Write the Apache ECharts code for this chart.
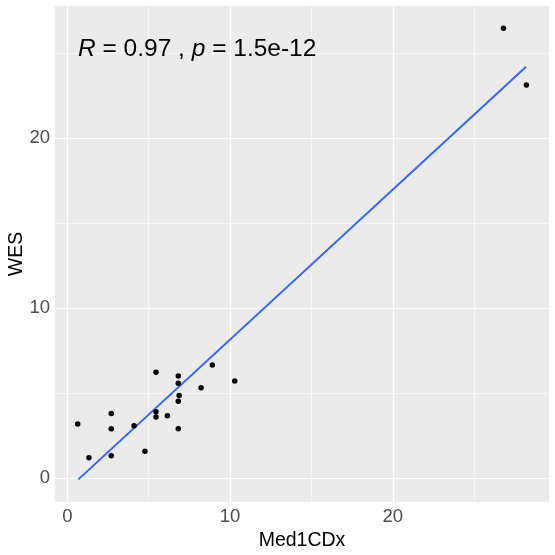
<!DOCTYPE html>
<html>
<head>
<meta charset="utf-8">
<script src="https://cdn.jsdelivr.net/npm/echarts@6/dist/echarts.min.js"></script>
<style>html,body{margin:0;padding:0;background:#fff}#c{width:555px;height:555px}</style>
</head>
<body>
<div id="c"></div>
<script>
var med1cdx = [0.64, 1.33, 2.70, 2.70, 2.70, 4.10, 4.77, 5.45, 5.45, 5.45, 6.15, 6.82, 6.82, 6.87, 6.82, 6.82, 8.22, 8.91, 10.29, 26.80, 28.21];
var wes     = [3.19, 1.21, 3.82, 2.92, 1.33, 3.09, 1.59, 6.24, 3.92, 3.61, 3.68, 6.02, 5.59, 4.88, 4.53, 2.92, 5.33, 6.66, 5.72, 26.47, 23.14];
var fitX = [0.68, 28.19];
var fitY = [-0.06, 24.21];
var xTicks = [0, 10, 20];
var yTicks = [0, 10, 20];
var majorGrid = [0, 10, 20];
var minorGrid = [5, 15, 25];
var statText = ['R', ' = 0.97 , ', 'p', ' = 1.5e-12'];

var pts = med1cdx.map(function (x, i) { return [x, wes[i]]; });
var fit = fitX.map(function (x, i) { return [x, fitY[i]]; });

function gridLines(vals, axisKey, width) {
  return vals.map(function (v) {
    var o = {}; o[axisKey] = v;
    o.lineStyle = { color: '#ffffff', width: width, type: 'solid' };
    return o;
  });
}

var chart = echarts.init(document.getElementById('c'), null, { renderer: 'canvas' });
var FONT = 'Liberation Sans, Arial, sans-serif';
chart.setOption({
  animation: false,
  textStyle: { fontFamily: FONT },
  grid: { left: 55, right: 6, top: 6, bottom: 53, show: true, backgroundColor: '#EBEBEB', borderWidth: 0,
          containLabel: false, outerBoundsMode: 'none' },
  xAxis: {
    type: 'value', min: -0.756, max: 29.6,
    name: 'Med1CDx', nameLocation: 'middle', nameGap: 26,
    nameTextStyle: { color: '#000', fontSize: 19.5, fontFamily: FONT },
    axisLine: { show: false },
    splitLine: { show: false },
    axisTick: { show: true, customValues: xTicks, length: 3.5, lineStyle: { color: '#333', width: 1 } },
    axisLabel: { show: true, customValues: xTicks, color: '#4D4D4D', fontSize: 18.5, margin: 5, fontFamily: FONT }
  },
  yAxis: {
    type: 'value', min: -1.39, max: 27.78,
    name: 'WES', nameLocation: 'middle', nameGap: 28, nameMoveOverlap: false,
    nameTextStyle: { color: '#000', fontSize: 19.5, fontFamily: FONT },
    axisLine: { show: false },
    splitLine: { show: false },
    axisTick: { show: true, customValues: yTicks, length: 3.5, lineStyle: { color: '#333', width: 1 } },
    axisLabel: { show: true, customValues: yTicks, color: '#4D4D4D', fontSize: 18.5, margin: 5, fontFamily: FONT }
  },
  series: [
    {
      type: 'line', data: [], silent: true, z: 1,
      markLine: {
        silent: true, symbol: 'none', label: { show: false }, animation: false, z: 1,
        data: gridLines(minorGrid, 'xAxis', 0.6).concat(gridLines(minorGrid, 'yAxis', 0.6))
          .concat(gridLines(majorGrid, 'xAxis', 1.2)).concat(gridLines(majorGrid, 'yAxis', 1.2))
      }
    },
    {
      type: 'line', data: fit, symbol: 'none', silent: true, z: 5,
      lineStyle: { color: '#3366FF', width: 2 }
    },
    {
      type: 'scatter', data: pts, symbol: 'circle', symbolSize: 5.5, silent: true, z: 6,
      itemStyle: { color: '#000000', opacity: 1 }
    }
  ],
  graphic: [{
    type: 'text', left: 78, top: 37, silent: true, z: 10,
    style: {
      rich: {
        i: { fontStyle: 'italic', fontSize: 24.5, fontFamily: FONT, fill: '#000' },
        n: { fontSize: 24.5, fontFamily: FONT, fill: '#000' }
      },
      text: '{i|' + statText[0] + '}{n|' + statText[1] + '}{i|' + statText[2] + '}{n|' + statText[3] + '}'
    }
  }]
});
</script>
</body>
</html>
